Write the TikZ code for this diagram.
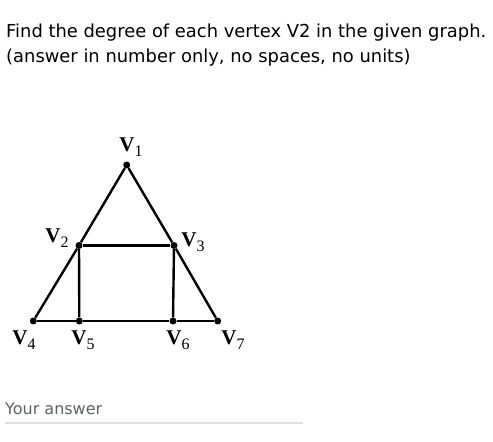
\documentclass[tikz,border=0pt]{standalone}
\usepackage{fontspec}
\setmainfont{DejaVu Sans}
\newfontfamily\graphfont{Liberation Serif}
\usepackage{xcolor}
\definecolor{answergray}{RGB}{95,99,104}
\definecolor{linegray}{RGB}{224,224,224}
\newcommand{\vname}[1]{V\raisebox{-5pt}{\fontsize{16}{16}\selectfont\mdseries #1}}
\tikzset{
	vertex/.style={circle,fill=black,inner sep=0pt,minimum size=7pt},
	vlabel/.style={font=\graphfont\fontsize{21}{21}\selectfont\bfseries,inner sep=0pt},
	edge/.style={line width=2.4pt},
	qtext/.style={anchor=base west,inner sep=0pt,font=\fontsize{17.9}{20}\selectfont}
}

\begin{document}
\begin{tikzpicture}[x=1pt,y=-1pt]
			\useasboundingbox[fill=white] (0,0) rectangle (493,442);
			\node[qtext] (q1) at(6,37.5) {Find the degree of each vertex V2 in the given graph.};
			\node[qtext] (q2) at(6,62.5) {(answer in number only, no spaces, no units)};
			\node[vertex] (v1) at(126.7,165) {};
			\node[vertex] (v2) at(79,245.5) {};
			\node[vertex] (v3) at(174,245.5) {};
			\node[vertex] (v4) at(33.3,321) {};
			\node[vertex] (v5) at(79.3,321) {};
			\node[vertex] (v6) at(173,321) {};
			\node[vertex] (v7) at(217.7,321) {};
			\draw[edge] (v1)--(v2)--(v4);
			\draw[edge] (v1)--(v3)--(v7);
			\draw[edge] (v2)--(v3);
			\draw[edge] (v2)--(v5);
			\draw[edge] (v3)--(v6);
			\draw[edge] (v4)--(v5)--(v6)--(v7);
			\node[vlabel] (l1) at(131,147) {\vname{1}};
			\node[vlabel] (l2) at(57,238) {\vname{2}};
			\node[vlabel] (l3) at(193,242) {\vname{3}};
			\node[vlabel] (l4) at(24,340) {\vname{4}};
			\node[vlabel] (l5) at(83,340) {\vname{5}};
			\node[vlabel] (l6) at(178,340) {\vname{6}};
			\node[vlabel] (l7) at(233,340) {\vname{7}};
			\node[anchor=base west,inner sep=0pt,text=answergray,font=\fontsize{16}{18}\selectfont] (ans) at(5,414) {Your answer};
			\coordinate (ua) at(5,423);
			\coordinate (ub) at(303,423);
			\draw[linegray,line width=1.5pt] (ua)--(ub);
		\end{tikzpicture}
\end{document}
